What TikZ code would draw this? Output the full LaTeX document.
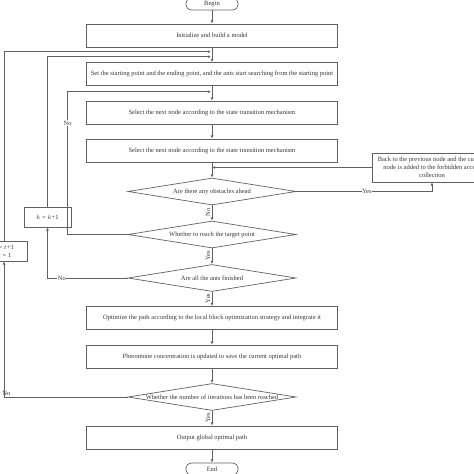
\documentclass[tikz,border=0pt]{standalone}
\usepackage{fontspec}
\setmainfont{Liberation Serif}
\usetikzlibrary{shapes.geometric,arrows.meta,calc}

\colorlet{flow}{black!62}
\colorlet{ink}{black!78}

\begin{document}
\begin{tikzpicture}[x=1pt,y=-1pt,
    every node/.style={text=ink, font=\fontsize{6.5}{7.8}\selectfont},
    box/.style={draw=flow, line width=0.7pt, minimum width=251pt, minimum height=23pt, inner sep=0pt},
    sidebox/.style={draw=flow, line width=0.7pt, minimum width=47pt, minimum height=20pt, inner sep=0pt},
    term/.style={draw=flow, line width=0.7pt, rounded corners=5pt, minimum width=52pt, minimum height=12pt, inner sep=0pt},
    dec/.style={draw=flow, line width=0.7pt, diamond, minimum width=168pt, minimum height=27pt, inner sep=0pt,
        label={center:#1}},
    lbl/.style={fill=white, inner sep=0.6pt},
    flowline/.style={draw=flow, line width=0.7pt},
    flowarrow/.style={flowline, -{Latex[length=3.2pt,width=2.8pt]}},
    ]
    \def\mx{212}                                % x of the main column

    \useasboundingbox (0,0) rectangle (474,474);
    \fill[white] (0,0) rectangle (474,474);
    \clip (0,0) rectangle (474,474);

    % main column
    \node[term] (begin) at (\mx,4) {Begin};
    \node[box] (init) at (\mx,35.5) {Initialize and build a model};
    \node[box] (start) at (\mx,74) {Set the starting point and the ending point, and the ants start searching from the starting point};
    \node[box] (sel1) at (\mx,112.5) {Select the next node according to the state transition mechanism};
    \node[box] (sel2) at (\mx,150.5) {Select the next node according to the state transition mechanism};
    \node[dec=Are there any obstacles ahead] (obst) at (\mx,191.5) {};
    \node[dec=Whether to reach the target point] (target) at (\mx,234.5) {};
    \node[dec=Are all the ants finished] (ants) at (\mx,278) {};
    \node[box] (opt) at (\mx,318) {Optimize the path according to the local block optimization strategy and integrate it};
    \node[box] (pher) at (\mx,356.5) {Pheromone concentration is updated to save the current optimal path};
    \node[dec=Whether the number of iterations has been reached] (iter) at (\mx,397) {};
    \node[box] (out) at (\mx,437.5) {Output global optimal path};
    \node[term] (end) at (\mx,469) {End};

    % side boxes
    \node[box, minimum width=120pt, minimum height=29pt, align=center] (back) at (432,167.5)
        {Back to the previous node and the current\\node is added to the forbidden access\\collection};
    \node[sidebox] (kinc) at (47.5,217) {$k$ = $k$+1};
    \node[sidebox, align=center] (tinc) at (4,251) {$t$ = $t$+1\\$k$ = 1};

    % points where the loops join the main column
    \coordinate (jt) at (\mx-1,51.7);
    \coordinate (jk) at (\mx-1,56.7);
    \coordinate (js) at (\mx-1,91.7);

    % main flow
    \draw[flowarrow] (begin) -- (init);
    \draw[flowarrow] (init) -- (start);
    \draw[flowarrow] (start) -- (sel1);
    \draw[flowarrow] (sel1) -- (sel2);
    \draw[flowarrow] (sel2) -- (obst);
    \draw[flowarrow] (obst) -- node[pos=.45, rotate=90, anchor=south, inner sep=1.5pt] {No} (target);
    \draw[flowarrow] (target) -- node[pos=.45, rotate=90, anchor=south, inner sep=1.5pt] {Yes} (ants);
    \draw[flowarrow] (ants) -- node[pos=.45, rotate=90, anchor=south, inner sep=1.5pt] {Yes} (opt);
    \draw[flowarrow] (opt) -- (pher);
    \draw[flowarrow] (pher) -- (iter);
    \draw[flowarrow] (iter) -- node[pos=.45, rotate=90, anchor=south, inner sep=1.5pt] {Yes} (out);
    \draw[flowarrow] (out) -- (end);

    % loops
    \draw[flowarrow] (obst.east) -- node[lbl, pos=.52] {Yes} (obst.east -| back.south) -- (back.south);
    \draw[flowarrow] (back.west) -- (back.west -| begin.south);
    \draw[flowarrow] (target.west) -| node[lbl, pos=.89] {No} (js -| 67.7,0) -- (js);
    \draw[flowarrow] (ants.west) -| node[lbl, pos=.41] {No} (kinc.south);
    \draw[flowarrow] (kinc.north) |- (jk);
    \draw[flowarrow] (iter.west) -| node[pos=.49, anchor=south, inner sep=1.5pt] {No} (tinc.south);
    \draw[flowarrow] (tinc.north) |- (jt);
\end{tikzpicture}
\end{document}
